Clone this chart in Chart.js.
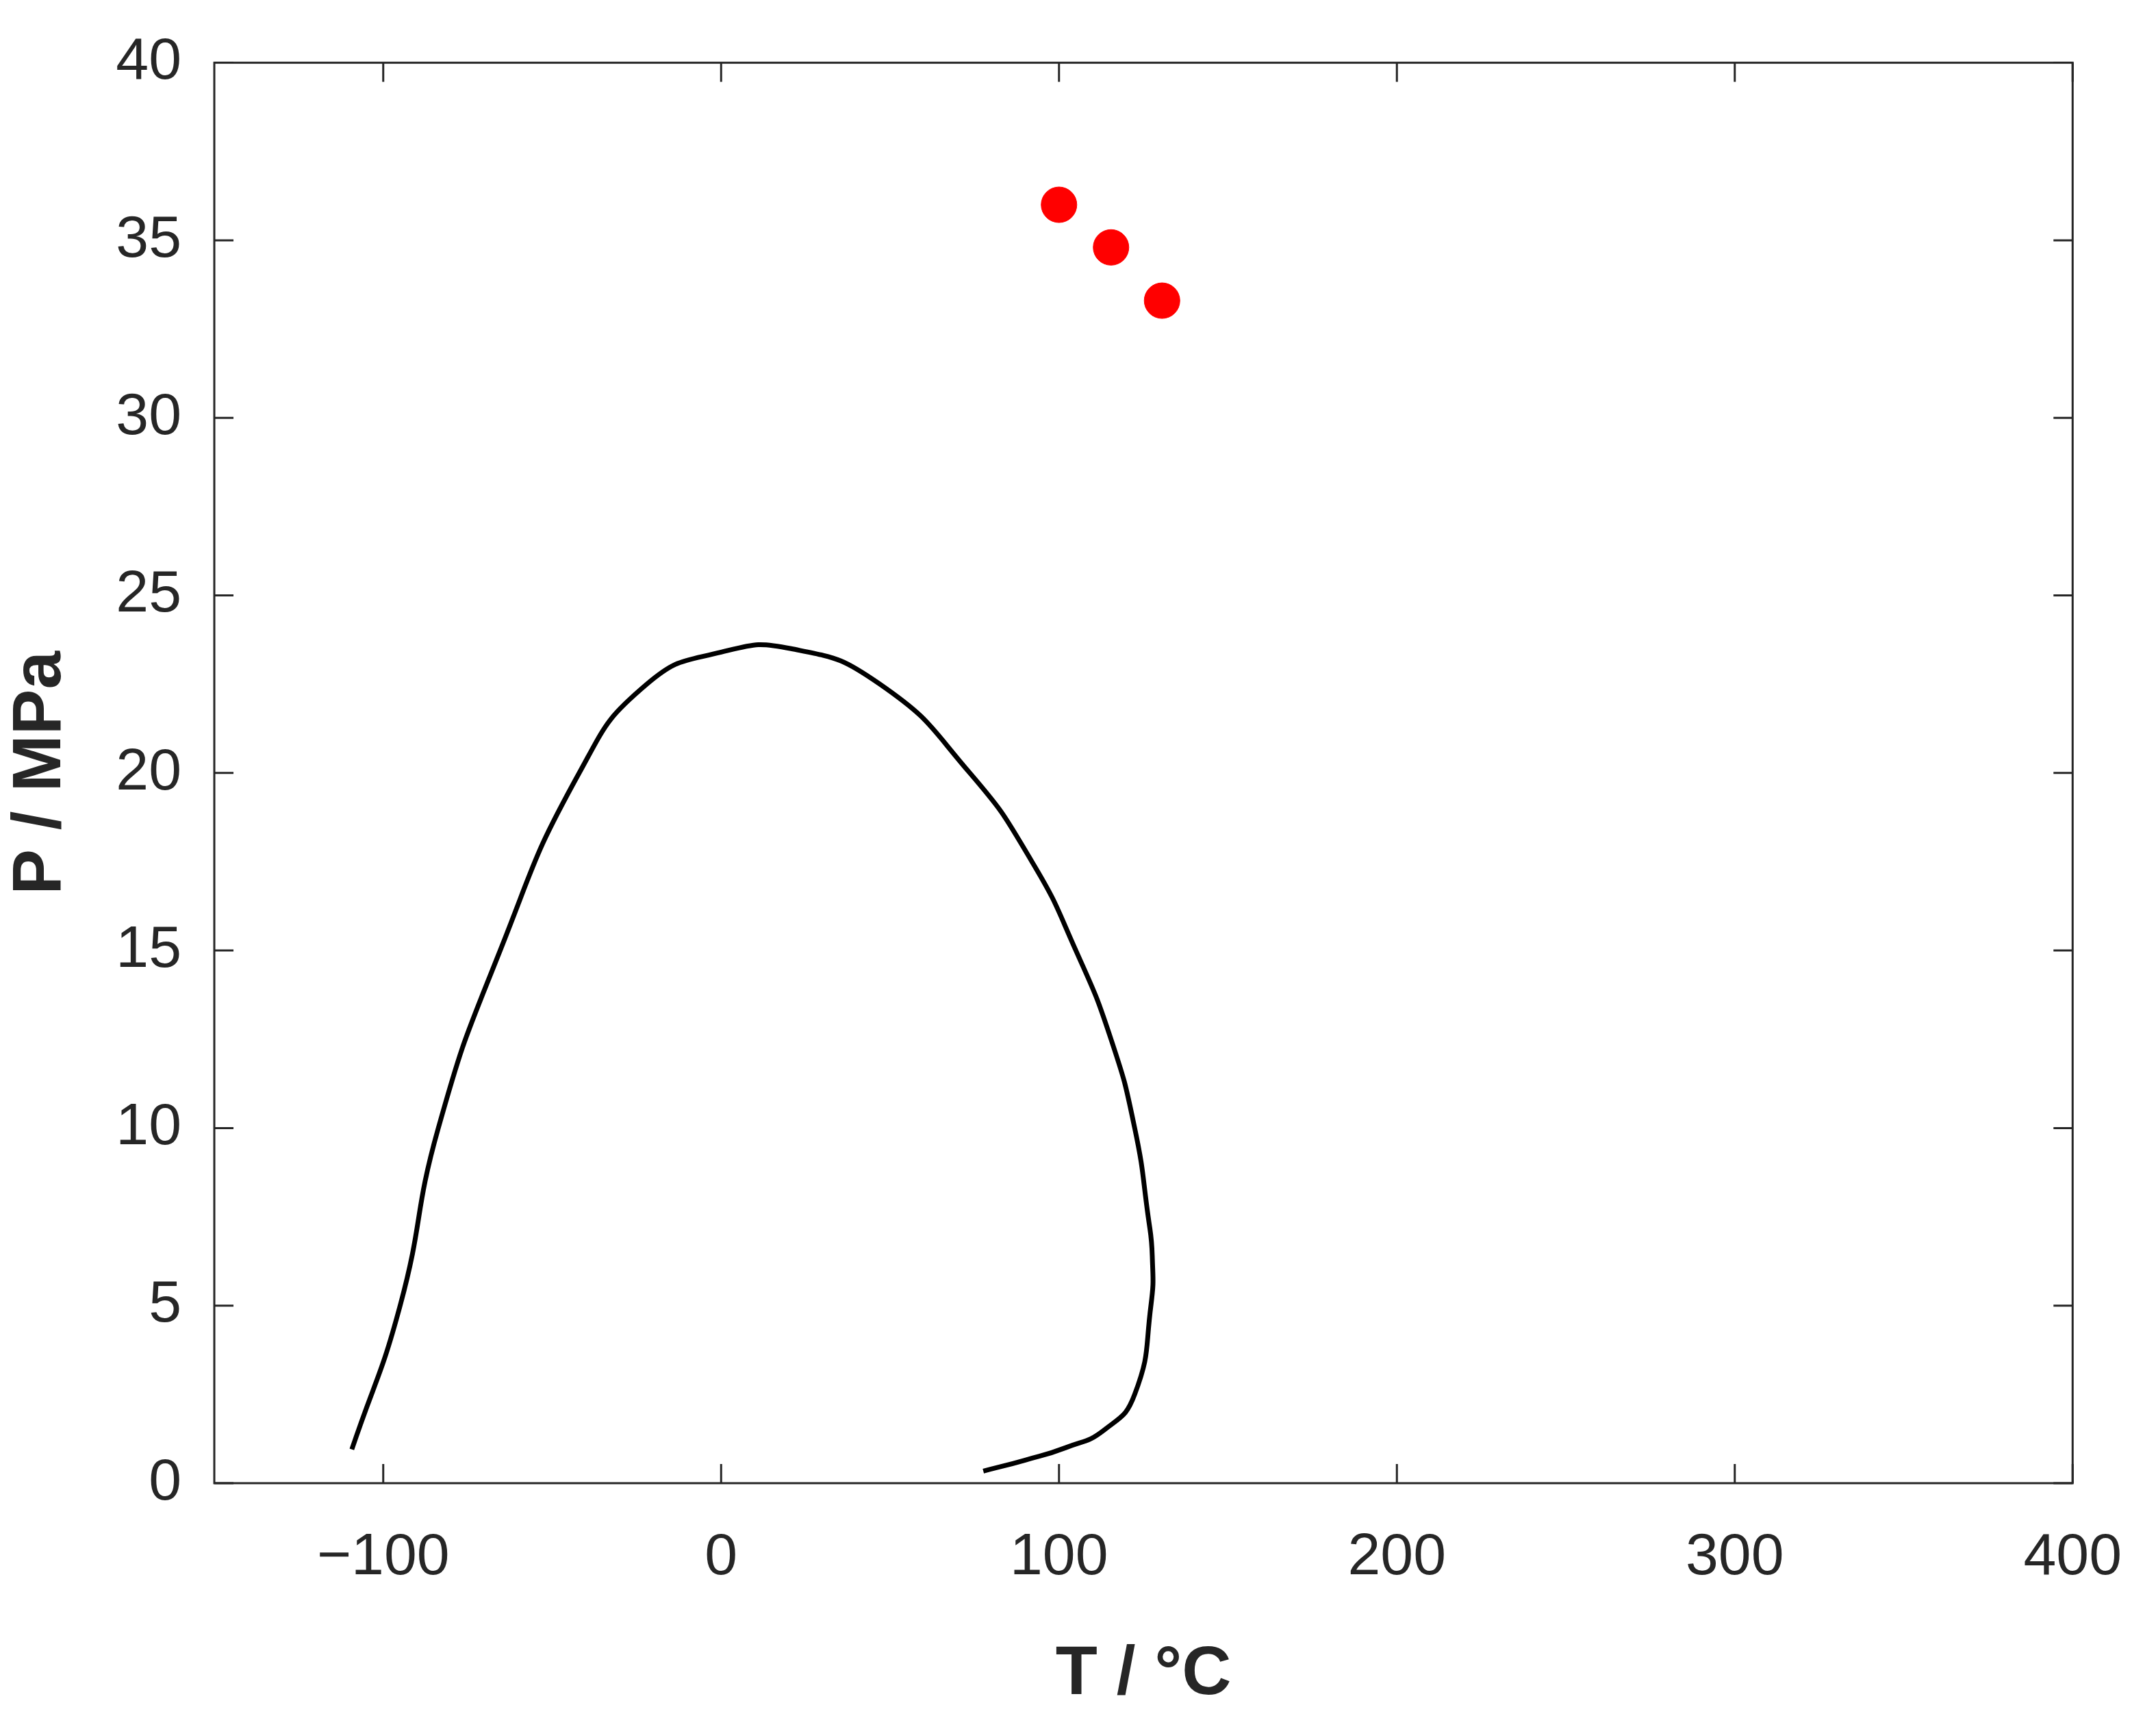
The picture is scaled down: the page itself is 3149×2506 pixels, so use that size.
<!DOCTYPE html>
<html><head><meta charset="utf-8">
<script src="https://cdn.jsdelivr.net/npm/chart.js@4"></script>
<style>html,body{margin:0;padding:0;background:#fff}canvas{display:block}</style>
</head><body>
<div style="width:3149px;height:2506px"><canvas id="c"></canvas></div>
<script>
const curveT = [-109.3,-95,-83.7,-65.4,-42,-22,0,20.7,47,73.6,92,105,115.4,122.4,126.4,127.6,127.2,122.4,113.4,102,90,77.6];
const curveP = [0.95,5,10,15,20,22.5,23.4,23.5,22.5,20,17.5,15,12.5,10,7.5,6.4,5,2.5,1.5,1.0,0.65,0.34];
const dotT = [100,115.4,130.5];
const dotP = [36.0,34.8,33.3];
const xTicks = [-100,0,100,200,300,400];
const yTicks = [0,5,10,15,20,25,30,35,40];

const frame = {id:'frame',afterDraw(ch){
  const {ctx,chartArea:a,scales:{x,y}}=ch;
  ctx.save();ctx.strokeStyle='#262626';ctx.lineWidth=3;
  ctx.strokeRect(a.left,a.top,a.right-a.left,a.bottom-a.top);
  const L=28;ctx.beginPath();
  xTicks.forEach(v=>{const px=x.getPixelForValue(v);ctx.moveTo(px,a.bottom);ctx.lineTo(px,a.bottom-L);ctx.moveTo(px,a.top);ctx.lineTo(px,a.top+L);});
  yTicks.forEach(v=>{const py=y.getPixelForValue(v);ctx.moveTo(a.left,py);ctx.lineTo(a.left+L,py);ctx.moveTo(a.right,py);ctx.lineTo(a.right-L,py);});
  ctx.stroke();ctx.restore();
}};
const font = {family:'Liberation Sans, Arial, sans-serif',size:86};
new Chart(document.getElementById('c'),{
  type:'scatter',
  data:{datasets:[
    {data:curveT.map((t,i)=>({x:t,y:curveP[i]})),showLine:true,borderColor:'#000',borderWidth:7,pointRadius:0,tension:0.5,fill:false},
    {data:dotT.map((t,i)=>({x:t,y:dotP[i]})),backgroundColor:'#ff0000',borderColor:'#ff0000',pointRadius:26,showLine:false}
  ]},
  options:{responsive:true,maintainAspectRatio:false,animation:false,
    layout:{padding:{top:36,right:102,left:0,bottom:0}},
    plugins:{legend:{display:false},tooltip:{enabled:false}},
    scales:{
      x:{type:'linear',min:-150,max:400,
        afterBuildTicks(s){s.ticks=xTicks.map(v=>({value:v}));},
        afterFit(s){s.height=340;},
        grid:{display:false},border:{display:false},
        ticks:{font,color:'#262626',padding:50,callback:v=>String(v).replace('-','\u2212'),maxRotation:0},
        title:{display:true,text:'T / \u00b0C',font:{family:font.family,size:100,weight:'bold'},color:'#262626',padding:{top:20,bottom:0}}},
      y:{type:'linear',min:0,max:40,
        afterBuildTicks(s){s.ticks=yTicks.map(v=>({value:v}));},
        afterFit(s){s.width=313;},
        grid:{display:false},border:{display:false},
        ticks:{font,color:'#262626',padding:40},
        title:{display:true,text:'P / MPa',font:{family:font.family,size:100,weight:'bold'},color:'#262626',padding:{top:0,bottom:20}}}
    }},
  plugins:[frame]
});
</script></body></html>
